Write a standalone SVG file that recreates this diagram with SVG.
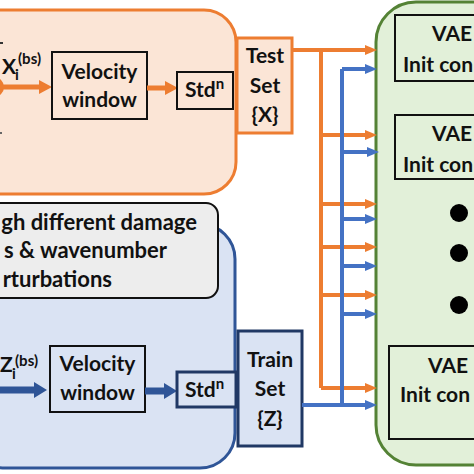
<svg xmlns="http://www.w3.org/2000/svg" width="474" height="474" viewBox="0 0 474 474">
<style>
text{font-family:Lato,"Open Sans","Liberation Sans",sans-serif;font-weight:700;fill:#111;}
.t{font-size:21px;}
.g{font-size:22px;text-anchor:end;}
.c{text-anchor:middle;}
.s{font-size:15px;}
.box{stroke:#111;stroke-width:2;}
.oc{stroke:#ed7d31;stroke-width:4;fill:none;}
.bc{stroke:#4472c4;stroke-width:4;fill:none;}
</style>
<defs>
<marker id="ho" viewBox="0 0 12 10" markerUnits="userSpaceOnUse" markerWidth="12" markerHeight="10" refX="4" refY="5" orient="auto"><path d="M0,0L12,5L0,10z" fill="#ed7d31"/></marker>
<marker id="hb" viewBox="0 0 12 10" markerUnits="userSpaceOnUse" markerWidth="12" markerHeight="10" refX="4" refY="5" orient="auto"><path d="M0,0L12,5L0,10z" fill="#4472c4"/></marker>
<marker id="hob" viewBox="0 0 13 14" markerUnits="userSpaceOnUse" markerWidth="13" markerHeight="14" refX="4" refY="7" orient="auto"><path d="M0,0L13,7L0,14z" fill="#ed7d31"/></marker>
<marker id="hbb" viewBox="0 0 13 16" markerUnits="userSpaceOnUse" markerWidth="13" markerHeight="16" refX="4" refY="8" orient="auto"><path d="M0,0L13,8L0,16z" fill="#2f5597"/></marker>
</defs>
<rect width="474" height="474" fill="#ffffff"/>

<g id="test-pipeline">
<rect x="-30" y="10" width="266" height="184" rx="32" fill="#fbe5d6" stroke="#ed7d31" stroke-width="3"/>
<circle cx="-6" cy="87" r="10" fill="#ed7d31"/>
<rect x="0" y="42" width="3" height="2" fill="#333"/>
<rect x="0" y="132" width="2" height="2" fill="#666"/>
<text class="t" x="2" y="74">X</text>
<text class="s" x="15" y="80">i</text>
<text class="s" x="18" y="64">(bs)</text>
<line x1="0" y1="87" x2="43" y2="87" stroke="#ed7d31" stroke-width="5" marker-end="url(#hob)"/>
<g id="vel-x"><rect class="box" x="52" y="52" width="95" height="67" fill="#fbe5d6"/>
<text class="t c" x="99.5" y="79">Velocity</text><text class="t c" x="99.5" y="107">window</text></g>
<line x1="147" y1="88" x2="169" y2="88" stroke="#ed7d31" stroke-width="5" marker-end="url(#hob)"/>
<g id="std-x"><rect class="box" x="177" y="72" width="56" height="37" fill="#fbe5d6"/>
<text class="t" x="185" y="97">Std<tspan class="s" dy="-8">n</tspan></text></g>
</g>
<g id="test-set"><rect x="237" y="38" width="55" height="95" fill="#fbe5d6" stroke="#ed7d31" stroke-width="3"/>
<text class="t c" x="265" y="63">Test</text><text class="t c" x="265" y="93">Set</text><text class="t c" x="265" y="122">{X}</text></g>

<g id="train-pipeline">
<rect x="-30" y="224" width="265" height="244" rx="35" fill="#dae3f3" stroke="#2f5597" stroke-width="3"/>
<text class="t" x="0" y="372">Z</text>
<text class="s" x="12" y="379">i</text>
<text class="s" x="15" y="366">(bs)</text>
<line x1="0" y1="390" x2="38" y2="390" stroke="#2f5597" stroke-width="7" marker-end="url(#hbb)"/>
<g id="vel-z"><rect class="box" x="50" y="346" width="95" height="66" fill="#dae3f3"/>
<text class="t c" x="97.5" y="371">Velocity</text><text class="t c" x="97.5" y="400">window</text></g>
<line x1="145" y1="391" x2="168" y2="391" stroke="#2f5597" stroke-width="7" marker-end="url(#hbb)"/>
<g id="std-z"><rect x="177" y="372" width="59" height="35" fill="#dae3f3" stroke="#203864" stroke-width="3"/>
<text class="t" x="185" y="397">Std<tspan class="s" dy="-8">n</tspan></text></g>
</g>
<g id="train-set"><rect x="238" y="331" width="64" height="115" fill="#dae3f3" stroke="#203864" stroke-width="3"/>
<text class="t c" x="270" y="367">Train</text><text class="t c" x="270" y="396">Set</text><text class="t c" x="270" y="426">{Z}</text></g>

<g id="note">
<rect x="-30" y="203" width="248" height="95" rx="12" fill="#ededed" stroke="#111" stroke-width="2"/>
<text class="g" x="197" y="230">gh different damage</text>
<text class="g" x="167" y="258">s &amp; wavenumber</text>
<text class="g" x="112" y="287">rturbations</text>
</g>

<g id="vae-group">
<rect x="376" y="2" width="170" height="463" rx="40" fill="#e2f0d9" stroke="#548235" stroke-width="3"/>
<g id="vae1"><rect class="box" x="395" y="15" width="120" height="66" fill="#e2f0d9"/>
<text class="t" x="432" y="41">VAE</text><text class="t" x="403" y="72">Init con</text></g>
<g id="vae2"><rect class="box" x="395" y="115" width="120" height="64" fill="#e2f0d9"/>
<text class="t" x="432" y="141">VAE</text><text class="t" x="403" y="172">Init con</text></g>
<circle cx="459" cy="213" r="9" fill="#000"/>
<circle cx="459" cy="253" r="9" fill="#000"/>
<circle cx="459" cy="305" r="9" fill="#000"/>
<g id="vae3"><rect class="box" x="389" y="346" width="130" height="93" fill="#e2f0d9"/>
<text class="t" x="428" y="373">VAE</text><text class="t" x="400" y="402">Init con</text></g>
</g>

<g id="connectors">
<path class="oc" d="M292,50H321V388"/>
<line class="oc" x1="321" y1="50" x2="369" y2="50" marker-end="url(#ho)"/>
<line class="oc" x1="321" y1="135" x2="369" y2="135" marker-end="url(#ho)"/>
<line class="oc" x1="321" y1="204" x2="369" y2="204" marker-end="url(#ho)"/>
<line class="oc" x1="321" y1="247" x2="369" y2="247" marker-end="url(#ho)"/>
<line class="oc" x1="321" y1="295" x2="369" y2="295" marker-end="url(#ho)"/>
<line class="oc" x1="321" y1="388" x2="369" y2="388" marker-end="url(#ho)"/>
<path class="bc" d="M302,405H342V69"/>
<line class="bc" x1="342" y1="69" x2="369" y2="69" marker-end="url(#hb)"/>
<line class="bc" x1="342" y1="152" x2="371" y2="152" marker-end="url(#hb)"/>
<line class="bc" x1="342" y1="219" x2="369" y2="219" marker-end="url(#hb)"/>
<line class="bc" x1="342" y1="266" x2="369" y2="266" marker-end="url(#hb)"/>
<line class="bc" x1="342" y1="314" x2="369" y2="314" marker-end="url(#hb)"/>
<line class="bc" x1="342" y1="405" x2="369" y2="405" marker-end="url(#hb)"/>
</g>
</svg>
